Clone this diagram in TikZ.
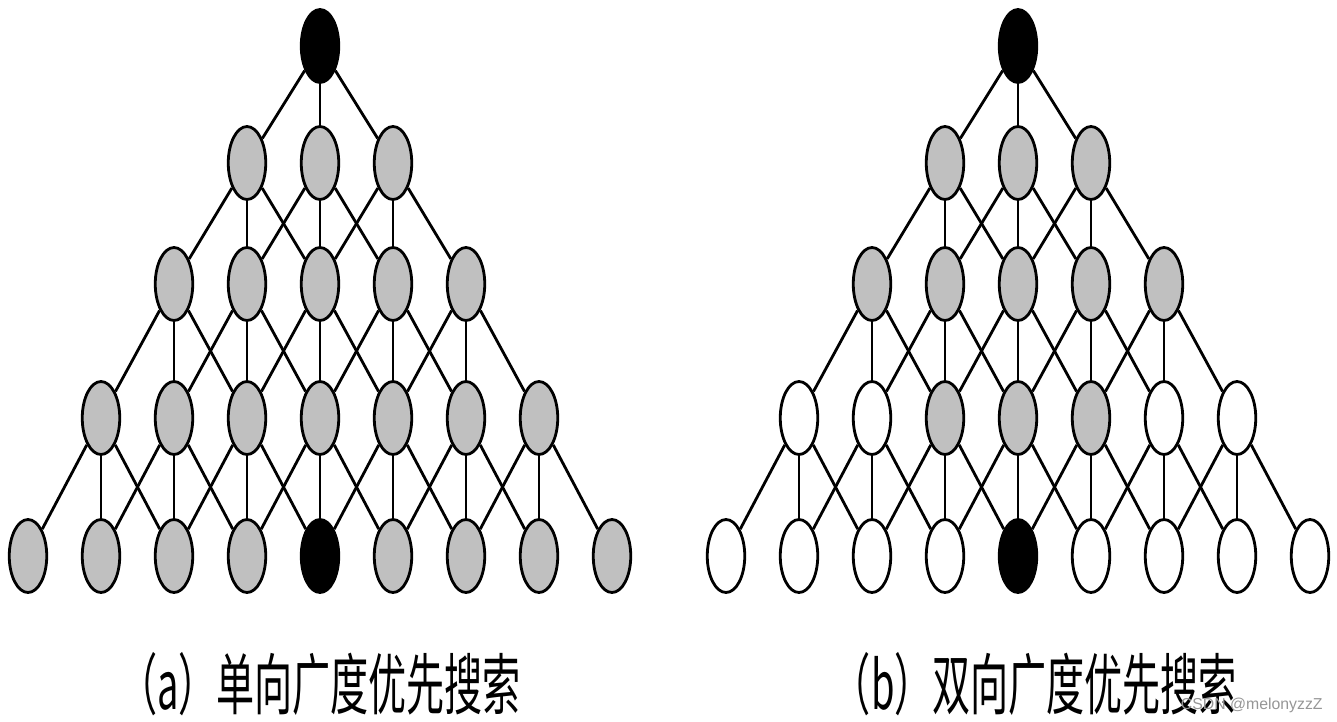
\documentclass[tikz,border=0pt]{standalone}
\usepackage{fontspec}
\usepackage{graphicx}
\newfontfamily\cjk{Noto Sans CJK SC}
\newfontfamily\markfont{Liberation Sans}
\usetikzlibrary{shapes.geometric}
\definecolor{nodegray}{RGB}{192,192,192}
\definecolor{markgray}{RGB}{150,150,150}
\tikzset{
    vertex/.style = {ellipse, draw, minimum width=0.75cm, minimum height=1.46cm, inner sep=0pt},
    blk/.style = {vertex, fill=black},
    gry/.style = {vertex, fill=nodegray},
    wht/.style = {vertex, fill=white},
    caption/.style = {inner sep=0pt, font=\cjk\fontsize{38}{40}\selectfont}
    }

\begin{document}
\begin{tikzpicture}[x=0.02cm, y=-0.02cm, line width=1.6pt]
    \useasboundingbox (0,0) rectangle (1337,721);

    % (a) one-way search
    \foreach \r/\y/\fl in {1/46/{blk}, 2/163/{gry,gry,gry},
                           3/284/{gry,gry,gry,gry,gry},
                           4/418/{gry,gry,gry,gry,gry,gry,gry},
                           5/556/{gry,gry,gry,gry,blk,gry,gry,gry,gry}}
        \foreach \f [count=\k from 0] in \fl
            \node[\f] (a\r-\k) at ({320+(\k-\r+1)*73},\y) {};

    % (b) two-way search
    \foreach \r/\y/\fl in {1/46/{blk}, 2/163/{gry,gry,gry},
                           3/284/{gry,gry,gry,gry,gry},
                           4/418/{wht,wht,gry,gry,gry,wht,wht},
                           5/556/{wht,wht,wht,wht,blk,wht,wht,wht,wht}}
        \foreach \f [count=\k from 0] in \fl
            \node[\f] (b\r-\k) at ({1018+(\k-\r+1)*73},\y) {};

    % edges
    \foreach \t in {a,b}
        \foreach \r in {1,...,4} {
            \pgfmathtruncatemacro\s{\r+1}
            \pgfmathtruncatemacro\n{2*\r-2}
            \foreach \k in {0,...,\n} {
                \pgfmathtruncatemacro\ka{\k+1}
                \pgfmathtruncatemacro\kb{\k+2}
                \path (\t\r-\k) edge (\t\s-\k) edge (\t\s-\ka) edge (\t\s-\kb);
            }
        }

    \node[caption] (capa) at (320,684) {\scalebox{0.57}[1]{（a）单向广度优先搜索}};
    \node[caption] (capb) at (1035,684) {\scalebox{0.57}[1]{（b）双向广度优先搜索}};
    \node[anchor=east, inner sep=0pt, text=markgray, font=\markfont\fontsize{9}{10}\selectfont]
        (mark) at (1324,705) {CSDN @melonyzzZ};
\end{tikzpicture}
\end{document}
